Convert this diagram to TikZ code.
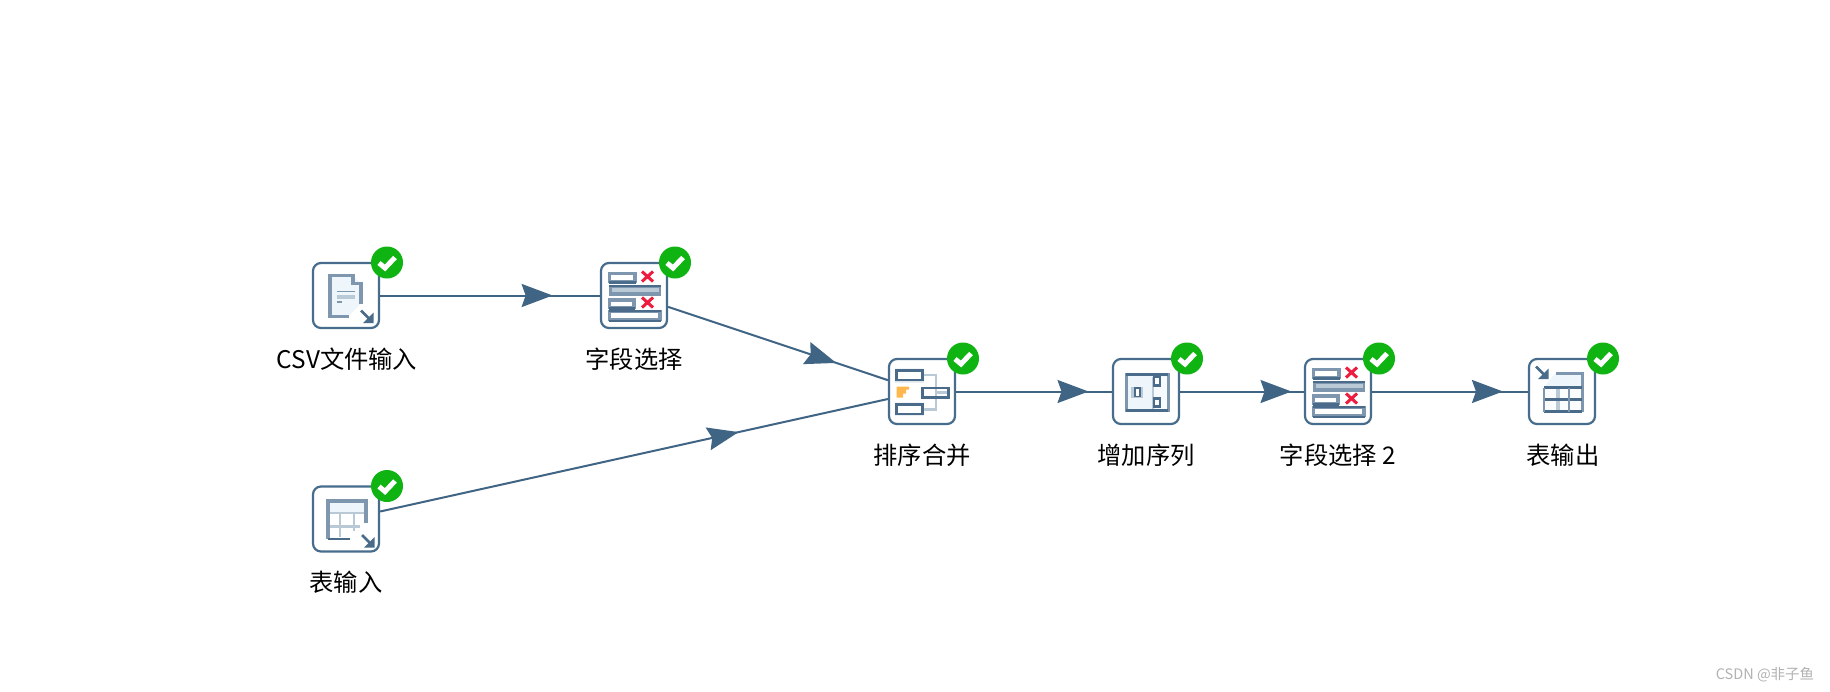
\documentclass[tikz,border=0pt]{standalone}
\usepackage{fontspec}
\setmainfont{Noto Sans CJK SC}
\usetikzlibrary{arrows.meta,decorations.markings}
\definecolor{linec}{HTML}{3F6484}
\definecolor{boxc}{HTML}{476C8C}
\definecolor{iconb}{HTML}{7E97AE}
\definecolor{icond}{HTML}{4A6C8A}
\definecolor{iconl}{HTML}{B9C9D6}
\definecolor{iconf}{HTML}{EEF6FC}
\definecolor{okgreen}{HTML}{0FB312}
\definecolor{redx}{HTML}{EE1C3E}
\definecolor{orangeb}{HTML}{FFB74D}
\tikzset{
  x=1pt,y=-1pt,
  stepbox/.style={draw=boxc,line width=2.2pt,rounded corners=8pt,minimum width=66pt,minimum height=65pt,inner sep=0pt,fill=white},
  okbadge/.style={circle,fill=okgreen,minimum size=32pt,inner sep=0pt},
  steplabel/.style={font=\fontsize{24.3pt}{28pt}\selectfont,text=black,inner sep=0pt,anchor=center},
  flowline/.style={draw=linec,line width=2pt,postaction={decorate},decoration={markings,mark=at position #1 with {\arrow[linec]{Stealth[length=31pt,width=23pt,inset=4pt]}}}},
  pics/okmark/.style={code={
    \draw[white,line width=5pt] (-8,0.5) -- (-2,5.5) -- (8,-5);
  }},
  pics/outarrow/.style={code={
    \draw[icond,line width=2.8pt] (-6,-6) -- (4,4);
    \fill[icond] (6.5,6.5) -- (6.5,-4) -- (-4,6.5) -- cycle;
  }},
  pics/fieldsel/.style={code={
    \draw[iconb,line width=3.4pt,fill=white] (-24.5,-22) rectangle (1,-14);
    \draw[icond,line width=2.6pt] (-25.5,-13.3) -- (2,-13.3);
    \fill[iconb] (-25.5,-10) rectangle (27,0.5);
    \fill[iconl] (-22,-8) rectangle (25,-4);
    \draw[icond,line width=2pt] (-25.5,-10) -- (27,-10);
    \draw[iconb,line width=3.4pt,fill=white] (-24.5,4.5) rectangle (0,12);
    \draw[icond,line width=2.6pt] (-25.5,13) -- (1,13);
    \draw[iconb,line width=3.4pt,fill=white] (-24.5,16) rectangle (26,24);
    \draw[icond,line width=2pt] (-25.5,15) -- (27,15);
    \draw[icond,line width=2pt] (-25.5,25) -- (27,25);
    \draw[redx,line width=3pt] (8,-24) -- (19,-14) (19,-24) -- (8,-14);
    \draw[redx,line width=3pt] (8,2) -- (19,12) (19,2) -- (8,12);
  }},
}
\newcommand{\stepnode}[6]{%
  \node[stepbox] (#1) at (#2,#3) {};
  \node[okbadge] (#1ok) at (#2+41,#3-33) {};
  \pic at (#1ok) {okmark};
  \node[steplabel] (#1t) at (#2+#5,#3+63.5) {#4};
  \begin{scope}[shift={(#2,#3)}]#6\end{scope}
}
\begin{document}
\begin{tikzpicture}
\useasboundingbox (0,0) rectangle (1830,691);
\fill[white] (0,0) rectangle (1830,691);
\stepnode{csv}{346}{295.5}{CSV文件输入}{1}{
  \fill[iconf] (-16,-20) -- (7,-20) -- (15,-12) -- (15,8) -- (2,21) -- (-16,21) -- cycle;
  \draw[iconb,line width=3.6pt] (15,8) -- (15,-12) -- (7,-12) -- (7,-20) -- (-16,-20) -- (-16,21) -- (3,21);
  \draw[iconb,line width=1.8pt] (-9,-4) -- (9,-4);
  \draw[iconl,line width=3.4pt] (-9,1.5) -- (9,1.5);
  \draw[iconb,line width=2.2pt] (-9,6.5) -- (-4,6.5);
  \pic at (21,21) {outarrow};
}
\stepnode{sela}{634}{295.5}{字段选择}{0}{\pic at (0,0) {fieldsel};}
\stepnode{tin}{346}{519}{表输入}{0}{
  \fill[iconf] (-18,-18) rectangle (20,-6);
  \draw[iconl,line width=2.6pt] (-6,-6) -- (-6,18) (8,-6) -- (8,12) (-18,-6) -- (20,-6) (-18,7.5) -- (14,7.5);
  \draw[iconb,line width=3.6pt] (20,4) -- (20,-18) -- (-18,-18) -- (-18,20);
  \draw[icond,line width=2.4pt] (-18,20) -- (4,20);
  \pic at (22,22) {outarrow};
}
\stepnode{merge}{922}{391.5}{排序合并}{0}{
  \draw[iconl,line width=2.4pt] (1,-16.5) -- (14,-16.5) -- (14,18) -- (1,18) (14,1) -- (27,1);
  \fill[iconl!45] (-27,-23) rectangle (2,-9) (-27,11) rectangle (2,24);
  \draw[icond,line width=2.8pt,fill=white] (-25.5,-21) rectangle (0.5,-11.5);
  \draw[icond,line width=2.8pt,fill=white] (-25.5,13) rectangle (0.5,22.5);
  \draw[icond,line width=2.8pt] (0.5,-3.5) rectangle (26.5,6);
  \fill[orangeb] (-25.5,-5) rectangle (-13,-2) (-25.5,-2) rectangle (-16,2) (-25.5,2) rectangle (-19,6);
}
\stepnode{seq}{1146}{391.5}{增加序列}{0}{
  \fill[iconf] (-20,-17) rectangle (22,19);
  \fill[white!60!iconf] (6,-15) rectangle (22,19);
  \draw[iconb,line width=3pt] (-20,-17) rectangle (22,19);
  \draw[icond,line width=2.4pt] (-20,-17) -- (22,-17) (-20,19) -- (22,19);
  \draw[iconl,line width=2.4pt] (7,-15) -- (7,17);
  \fill[iconl] (-15,-5) rectangle (-3,6);
  \draw[icond,line width=1.6pt,fill=white] (-11,-3.5) rectangle (-6,5);
  \draw[icond,line width=2.4pt,fill=white] (8,-15) rectangle (14,-6);
  \draw[icond,line width=2.4pt,fill=white] (8,7) rectangle (14,15);
}
\stepnode{selb}{1338}{391.5}{字段选择 2}{0}{\pic at (0,0) {fieldsel};}
\stepnode{tout}{1562}{391.5}{表输出}{1}{
  \fill[iconf] (-7,-18) -- (20,-18) -- (20,-4) -- (-18,-4) -- cycle;
  \fill[white!70!iconf] (-18,-4) rectangle (20,20);
  \draw[iconl,line width=3.4pt] (-4,-4) -- (-4,20);
  \draw[iconb,line width=3pt] (-6,-18) -- (20,-18) -- (20,20);
  \draw[icond,line width=2.4pt] (-18,-4) -- (20,-4) (-18,8) -- (20,8) (-18,20) -- (20,20);
  \draw[iconb,line width=2.6pt] (-18,-4) -- (-18,20) (7,-4) -- (7,20);
  \pic at (-20,-19) {outarrow};
}
\draw[flowline=0.785] (csv) -- (sela);
\draw[flowline=0.765] (sela) -- (merge);
\draw[flowline=0.706] (tin) -- (merge);
\draw[flowline=0.85] (merge) -- (seq);
\draw[flowline=0.90] (seq) -- (selb);
\draw[flowline=0.84] (selb) -- (tout);
\node[font=\fontsize{14.5pt}{16pt}\selectfont,text=black!30,inner sep=0pt] (mark) at (1765,675) {CSDN @非子鱼};
\end{tikzpicture}
\end{document}
